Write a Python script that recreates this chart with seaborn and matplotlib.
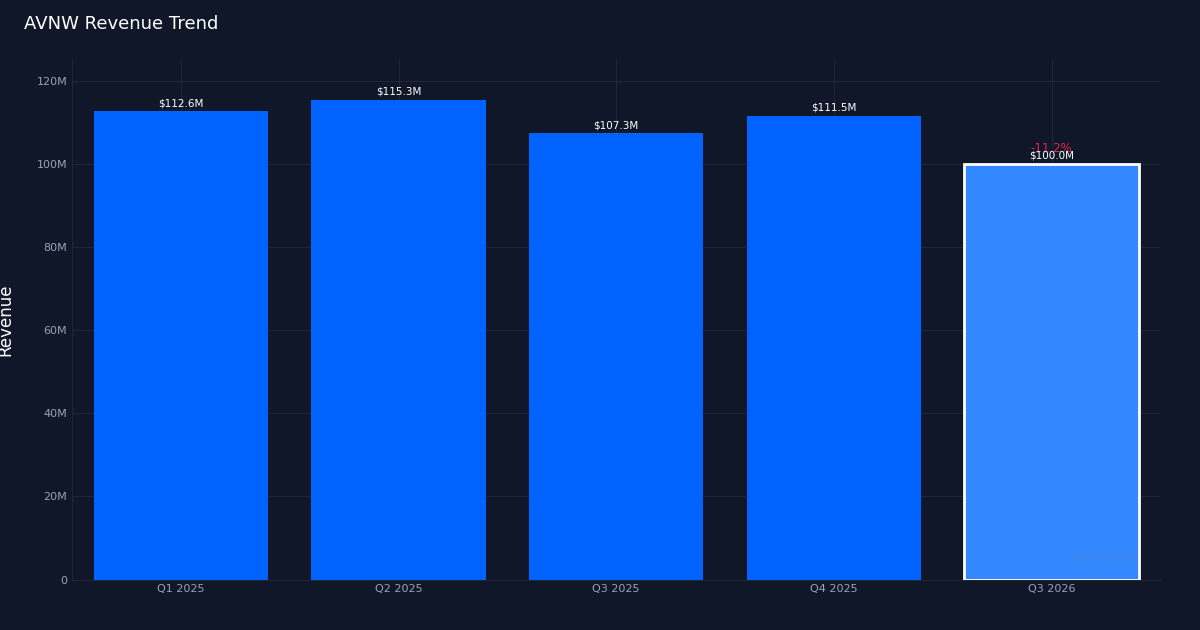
import matplotlib
matplotlib.use("Agg")
import matplotlib.pyplot as plt
import seaborn as sns
import pandas as pd
from matplotlib.ticker import FuncFormatter

# -------------------------------
# Data
# -------------------------------
quarters = ["Q1 2025", "Q2 2025", "Q3 2025", "Q4 2025", "Q3 2026"]
revenue_m = [112.6, 115.3, 107.3, 111.5, 100.0]
change_label = "-11.2%"

BG = "#0f1729"
GRID = "#1e2638"
BAR = "#0062ff"
HIGHLIGHT = "#3388ff"

sns.set_style("dark")
plt.rcParams["font.family"] = ["DejaVu Sans"]

df = pd.DataFrame({"quarter": quarters, "revenue": revenue_m})

fig = plt.figure(figsize=(12, 6.3), dpi=100, facecolor=BG)
ax = fig.add_axes([0.06, 0.08, 0.907, 0.825])
ax.set_facecolor(BG)

colors = [BAR] * (len(quarters) - 1) + [HIGHLIGHT]
sns.barplot(data=df, x="quarter", y="revenue", hue="quarter", palette=colors,
            legend=False, width=0.8, ax=ax, saturation=1, zorder=3)

# no outline except on the last (highlighted) bar
for p in ax.patches:
    p.set_linewidth(0)
last = ax.patches[-1]
last.set_edgecolor("white")
last.set_linewidth(2)

for p, v in zip(ax.patches, revenue_m):
    ax.text(p.get_x() + p.get_width() / 2, v + 0.8, f"${v:.1f}M",
            ha="center", va="bottom", color="white", fontsize=7.5, zorder=4)
ax.text(last.get_x() + last.get_width() / 2, revenue_m[-1] + 2.0,
        change_label, ha="center", va="bottom", color="#e0294d", fontsize=8.5, zorder=3.5)

ax.set_ylim(0, 125)
ax.yaxis.set_major_formatter(FuncFormatter(lambda y, _: "0" if y == 0 else f"{int(y)}M"))
ax.set_yticks(range(0, 121, 20))
ax.grid(True, color=GRID, linewidth=0.8, zorder=0)
ax.tick_params(colors="#9aa3b5", labelsize=8, length=0)
for s in ax.spines.values():
    s.set_visible(False)
ax.spines["bottom"].set_visible(True)
ax.spines["bottom"].set_color(GRID)
ax.spines["left"].set_visible(True)
ax.spines["left"].set_color(GRID)

ax.set_xlabel("")
ax.set_ylabel("Revenue", color="white", fontsize=12)
ax.yaxis.set_label_coords(-0.053, 0.5)
fig.text(0.02, 0.962, "AVNW Revenue Trend", color="white", fontsize=13, va="center")
ax.text(0.98, 0.035, "AlphaStreet", transform=ax.transAxes, ha="right",
        color="#5a7fbf", alpha=0.5, fontsize=8, zorder=5)

fig.savefig("out.png", facecolor=BG)
